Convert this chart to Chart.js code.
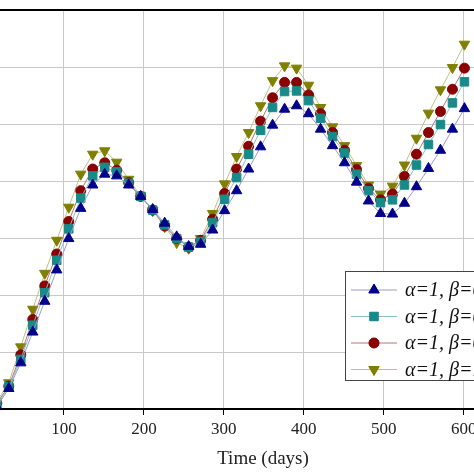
<!DOCTYPE html>
<html>
<head>
<meta charset="utf-8">
<script src="https://cdn.jsdelivr.net/npm/chart.js@4/dist/chart.umd.min.js"></script>
<style>
  html, body { margin: 0; padding: 0; background: #fff; overflow: hidden; width: 474px; height: 474px; }
  #wrap { position: absolute; left: -7px; top: 0; width: 540px; height: 474px; }
</style>
</head>
<body>
<div id="wrap"><canvas id="chart" width="540" height="474"></canvas></div>
<script>
const days = [16, 31, 46, 61, 76, 91, 106, 121, 136, 151, 166, 181, 196, 211, 226, 241, 256, 271, 286, 301,
              316, 331, 346, 361, 376, 391, 406, 421, 436, 451, 466, 481, 496, 511, 526, 541, 556, 571, 586, 601];

const beta1 = [0.04, 0.36, 0.81, 1.35, 1.89, 2.44, 2.99, 3.52, 3.93, 4.12, 4.09, 3.93, 3.73, 3.50, 3.26, 3.02, 2.85, 2.89, 3.14, 3.48,
               3.83, 4.21, 4.60, 4.98, 5.26, 5.32, 5.18, 4.91, 4.62, 4.32, 3.98, 3.65, 3.43, 3.42, 3.61, 3.90, 4.22, 4.54, 4.91, 5.27];
const beta2 = [0.07, 0.39, 0.87, 1.47, 2.04, 2.61, 3.16, 3.70, 4.09, 4.24, 4.16, 3.96, 3.73, 3.49, 3.23, 2.99, 2.84, 2.94, 3.27, 3.68,
               4.06, 4.47, 4.89, 5.29, 5.57, 5.58, 5.41, 5.10, 4.78, 4.49, 4.12, 3.83, 3.62, 3.67, 3.93, 4.28, 4.64, 4.99, 5.37, 5.74];
const beta3 = [0.10, 0.40, 0.95, 1.57, 2.16, 2.72, 3.29, 3.83, 4.21, 4.32, 4.19, 3.97, 3.73, 3.49, 3.21, 2.99, 2.84, 2.96, 3.33, 3.78,
               4.21, 4.61, 5.05, 5.46, 5.73, 5.73, 5.51, 5.18, 4.85, 4.54, 4.20, 3.87, 3.67, 3.77, 4.08, 4.47, 4.85, 5.22, 5.61, 5.98];
const beta4 = [0.13, 0.46, 1.09, 1.75, 2.38, 2.96, 3.54, 4.12, 4.47, 4.53, 4.33, 4.03, 3.74, 3.48, 3.20, 2.92, 2.82, 2.99, 3.43, 3.95,
               4.43, 4.85, 5.32, 5.76, 6.02, 5.98, 5.68, 5.29, 4.95, 4.62, 4.27, 3.93, 3.77, 3.91, 4.28, 4.75, 5.19, 5.60, 5.99, 6.40];

const seriesLabels = ['α=1, β=0.5', 'α=1, β=0.7', 'α=1, β=0.9', 'α=1, β=1.0'];
const xTicks = [100, 200, 300, 400, 500, 600];

function series(label, values, color, line, style, rotation) {
    return {
        label: label,
        data: days.map((d, i) => ({x: d, y: values[i]})),
        borderColor: line,
        borderWidth: 1,
        backgroundColor: color,
        pointBorderColor: color,
        pointStyle: style,
        rotation: rotation,
        pointRadius: style === 'circle' ? 5 : 6,
        tension: 0
    };
}

const datasets = [
    series(seriesLabels[0], beta1, '#00008b', '#9a9ac8', 'triangle', 0),
    series(seriesLabels[1], beta2, '#178a8a', '#8ac0c0', 'rect', 0),
    series(seriesLabels[2], beta3, '#8b0000', '#b87070', 'circle', 0),
    series(seriesLabels[3], beta4, '#7f7f00', '#c0c080', 'triangle', 180)
];

// legend box and frame lines drawn inside the plot
const framePlugin = {
    id: 'frame',
    afterDraw(chart) {
        const ctx = chart.ctx;
        const a = chart.chartArea;
        ctx.save();
        ctx.strokeStyle = '#000';
        ctx.lineWidth = 2;
        ctx.beginPath();
        ctx.moveTo(a.left, a.top); ctx.lineTo(a.right, a.top);
        ctx.stroke();

        const bx = 352, by = 271, bw = 200, bh = 109;
        ctx.fillStyle = '#fff';
        ctx.fillRect(bx, by, bw, bh);
        ctx.lineWidth = 1;
        ctx.strokeStyle = '#444';
        ctx.strokeRect(bx + 0.5, by + 0.5, bw, bh);
        ctx.font = 'italic 20px "Liberation Serif"';
        ctx.textBaseline = 'middle';
        chart.data.datasets.forEach((ds, i) => {
            const y = by + 19 + i * 26.5;
            ctx.strokeStyle = ds.borderColor;
            ctx.beginPath();
            ctx.moveTo(bx + 6, y); ctx.lineTo(bx + 52, y);
            ctx.stroke();
            ctx.fillStyle = ds.backgroundColor;
            ctx.strokeStyle = ds.backgroundColor;
            ctx.beginPath();
            Chart.helpers.drawPoint(ctx, {
                pointStyle: ds.pointStyle, rotation: ds.rotation, radius: ds.pointStyle === 'circle' ? 5 : 6, borderWidth: 1
            }, bx + 29, y);
            ctx.fill();
            ctx.fillStyle = '#111';
            ctx.fillText(ds.label, bx + 60, y + 1);
        });
        ctx.restore();
    }
};

new Chart(document.getElementById('chart'), {
    type: 'line',
    data: {datasets: datasets},
    options: {
        responsive: false,
        animation: false,
        layout: {padding: {top: 10, left: 0, right: 0, bottom: 0}},
        plugins: {legend: {display: false}, tooltip: {enabled: false}},
        scales: {
            x: {
                type: 'linear',
                min: 20,
                max: 678,
                afterBuildTicks: s => { s.ticks = xTicks.map(v => ({value: v})); },
                afterFit: s => { s.height = 65; },
                ticks: {color: '#222', font: {family: 'Liberation Serif', size: 17}, padding: 4},
                grid: {color: '#c8c8c8', tickColor: '#000', tickLength: 6},
                border: {color: '#000', width: 2},
                title: {display: true, text: 'Time (days)', color: '#222',
                        font: {family: 'Liberation Serif', size: 19}, padding: {top: 2}}
            },
            y: {
                min: 0,
                max: 7,
                afterFit: s => { s.width = 0; },
                ticks: {display: false, stepSize: 1},
                grid: {color: '#c8c8c8', drawTicks: false},
                border: {display: false}
            }
        }
    },
    plugins: [framePlugin]
});
</script>
</body>
</html>
